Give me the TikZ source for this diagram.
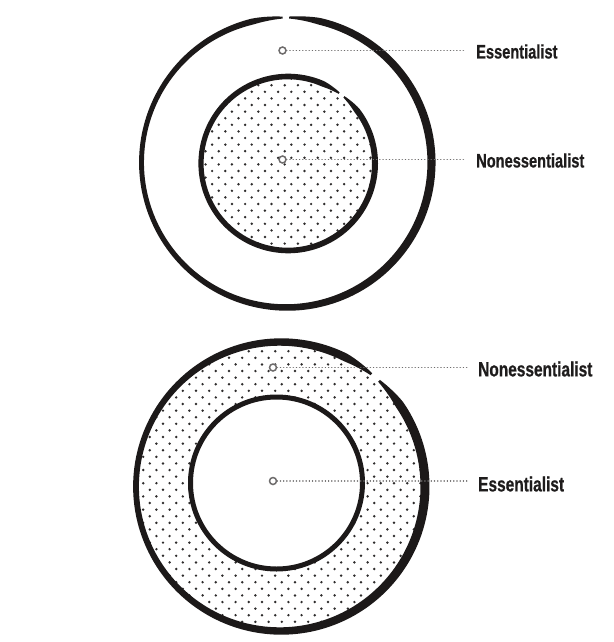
\documentclass[tikz,border=0pt]{standalone}
\usepackage{fontspec}
\newfontfamily\labfont{Liberation Sans}[FakeStretch=0.75,FakeBold=0.6]
\definecolor{inkc}{HTML}{1C1919}
\definecolor{dotc}{HTML}{2E2C2C}
\definecolor{markc}{HTML}{6E6C6C}
\definecolor{leadc}{HTML}{6E6C6C}
\definecolor{textc}{HTML}{1E1C1C}
\newcommand\brusharc[7]{%
  \fill[inkc] plot[domain=#4:#5,samples=200]
    ({#1+(#3+0.5*(#6+#7*cos(\x))*(0.3+0.7*min(1,(\x-#4)/12,(#5-\x)/12)))*cos(\x)},
     {#2-(#3+0.5*(#6+#7*cos(\x))*(0.3+0.7*min(1,(\x-#4)/12,(#5-\x)/12)))*sin(\x)})
  -- plot[domain=#5:#4,samples=200]
    ({#1+(#3-0.5*(#6+#7*cos(\x))*(0.3+0.7*min(1,(\x-#4)/12,(#5-\x)/12)))*cos(\x)},
     {#2-(#3-0.5*(#6+#7*cos(\x))*(0.3+0.7*min(1,(\x-#4)/12,(#5-\x)/12)))*sin(\x)})
  -- cycle;}
\begin{document}
\begin{tikzpicture}[x=1pt,y=-1pt,
  lab/.style={font=\labfont\bfseries\fontsize{19.5}{21}\selectfont, text=textc, inner sep=0pt, anchor=west},
  labbig/.style={lab, font=\labfont\bfseries\fontsize{20.6}{22}\selectfont},
  marker/.style={circle, draw=markc, fill=white, line width=1.5pt, minimum size=7pt, inner sep=0pt},
  leader/.style={draw=leadc, line width=1.6pt, dash pattern=on 0.01pt off 3.2pt, line cap=round}]
\useasboundingbox (0,0) rectangle (613,642);

% ---- dot fields ----
\begin{scope}
  \clip (288,163.5) circle (87pt);
  \foreach \r in {0,...,28} {
    \foreach \c in {0,...,14} {
      \fill[dotc] ({198.9+\c*13.2+mod(\r+1,2)*6.6},{72+\r*6.6}) circle (1.35pt);
    }
  }
\end{scope}
\begin{scope}[even odd rule]
  \clip (280.5,486.5) circle (144.5pt) (276.5,483) circle (86pt);
  \foreach \r in {0,...,46} {
    \foreach \c in {0,...,23} {
      \fill[dotc] ({130+\c*13.2+mod(\r,2)*6.6},{338+\r*6.6}) circle (1.35pt);
    }
  }
\end{scope}

% ---- circles ----
\brusharc{286.5}{162.5}{145}{91.5}{449}{6.5}{1.6}
\brusharc{288}{163.5}{87}{54}{410}{5.6}{0.4}
\brusharc{280.5}{486.5}{144.5}{51}{407}{7.4}{1.6}
\draw[inkc, line width=5pt] (276.5,483) circle (86pt);

% ---- markers, leaders, labels ----
\node[marker] (m1) at (282.5,50.5) {};
\node[marker] (m2) at (282.5,159.5) {};
\node[marker] (m3) at (273,367.5) {};
\node[marker] (m4) at (273,481) {};
\coordinate (c1) at (465,50.5);
\coordinate (c2) at (465,159.5);
\coordinate (c3) at (467,367.5);
\coordinate (c4) at (467,481);
\draw[leader] (m1) -- (c1);
\draw[leader] (m2) -- (c2);
\draw[leader] (m3) -- (c3);
\draw[leader] (m4) -- (c4);
\node[lab] (t1) at (476,51.5) {Essentialist};
\node[lab] (t2) at (476,160.5) {Nonessentialist};
\node[labbig] (t3) at (478,369) {Nonessentialist};
\node[labbig] (t4) at (478,484) {Essentialist};
\end{tikzpicture}
\end{document}
